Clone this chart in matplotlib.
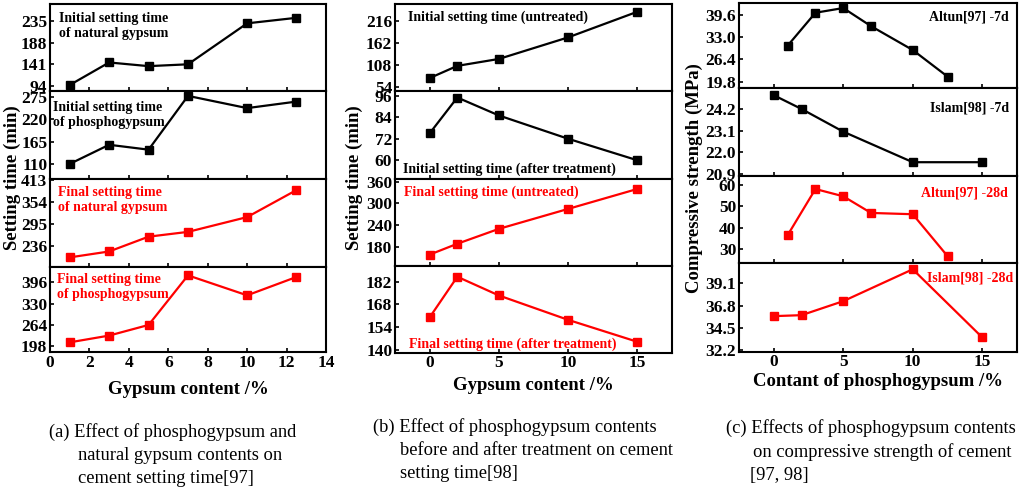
import matplotlib
matplotlib.use("Agg")
import matplotlib.pyplot as plt

# panel (a): setting time vs gypsum content [97]
x_a = [1, 3, 5, 7, 10, 12.5]
nat_init = [96, 145, 137, 141, 230, 242]
pg_init = [110, 157, 145, 277, 247, 263]
nat_final = [204, 220, 260, 273, 313, 386]
pg_final = [210, 231, 264, 418, 356, 413]

# panel (b): untreated / treated phosphogypsum [98]
x_b = [0, 2, 5, 10, 15]
untr_init = [75, 105, 122, 175, 238]
trt_init = [75, 95, 85, 72, 60]
untr_final = [159, 189, 230, 285, 340]
trt_final = [160, 185, 173.5, 158.5, 145]

# panel (c): compressive strength
x_altun = [1, 3, 5, 7, 10, 12.5]
altun_7d = [30.5, 40.3, 41.7, 36.3, 29.2, 21.3]
altun_28d = [36.5, 58.1, 54.7, 46.9, 46.3, 26.7]
x_islam = [0, 2, 5, 10, 15]
islam_7d = [24.9, 24.2, 23.05, 21.5, 21.5]
islam_28d = [35.7, 35.8, 37.25, 40.55, 33.5]

yticks_a = [[94, 141, 188, 235], [110, 165, 220, 275], [236, 295, 354, 413], [198, 264, 330, 396]]
ylims_a = [(83, 272), (73, 289), (178, 416), (180, 444)]
yticks_b = [[54, 108, 162, 216], [60, 72, 84, 96], [180, 240, 300, 360], [140, 154, 168, 182]]
ylims_b = [(44, 257), (49.4, 98.8), (128.5, 366.6), (138.3, 191.8)]
yticks_c = [["19.8", "26.4", "33.0", "39.6"], ["20.9", "22.0", "23.1", "24.2"],
            ["30", "40", "50", "60"], ["32.2", "34.5", "36.8", "39.1"]]
ylims_c = [(17.8, 43.2), (20.8, 25.25), (23.6, 64.2), (32.02, 41.23)]

plt.rcParams['font.family'] = ['Liberation Serif', 'DejaVu Serif']
plt.rcParams['font.weight'] = 'bold'

W, H = 1030, 488
fig = plt.figure(figsize=(W / 100, H / 100), dpi=100)


def stack(left, right, edges):
    axs = []
    for i in range(4):
        top, bot = edges[i], edges[i + 1]
        ax = fig.add_axes([left / W, 1 - bot / H, (right - left) / W, (bot - top) / H])
        axs.append(ax)
    return axs


def style(ax, yt, ylim, xt, xlim, bottom):
    for s in ax.spines.values():
        s.set_linewidth(1.5)
    ax.set_xlim(xlim)
    ax.set_ylim(ylim)
    ax.set_xticks(xt)
    vals = [float(v) for v in yt]
    ax.set_yticks(vals)
    ax.set_yticklabels([str(v) for v in yt])
    ax.tick_params(direction='in', length=3, width=1.2, labelsize=12.5, pad=2)
    if not bottom:
        ax.tick_params(labelbottom=False)
    for lab in ax.get_xticklabels() + ax.get_yticklabels():
        lab.set_fontweight('bold')


def line(ax, x, y, c):
    ax.plot(x, y, color=c, lw=1.6, marker='s', ms=5.5, mfc=c, mec=c)


def txt(x, y, s, c='black', ha='left', size=10):
    fig.text(x / W, 1 - y / H, s, color=c, ha=ha, va='center', fontsize=size,
             fontweight='bold', linespacing=1.15)


# (a)
axa = stack(50, 326, [4, 91, 179, 267, 352])
for i, (y, c) in enumerate([(nat_init, 'black'), (pg_init, 'black'),
                            (nat_final, 'red'), (pg_final, 'red')]):
    line(axa[i], x_a, y, c)
    style(axa[i], yticks_a[i], ylims_a[i], range(0, 15, 2), (0, 14), i == 3)

# (b)
axb = stack(395, 672, [4, 90.7, 179.3, 265.7, 352.7])
for i, (y, c) in enumerate([(untr_init, 'black'), (trt_init, 'black'),
                            (untr_final, 'red'), (trt_final, 'red')]):
    line(axb[i], x_b, y, c)
    style(axb[i], yticks_b[i], ylims_b[i], [0, 5, 10, 15], (-2.5, 17.5), i == 3)

# (c)
axc = stack(739, 1017, [3, 88.3, 176, 262.7, 351.7])
for i, (x, y, c) in enumerate([(x_altun, altun_7d, 'black'), (x_islam, islam_7d, 'black'),
                               (x_altun, altun_28d, 'red'), (x_islam, islam_28d, 'red')]):
    line(axc[i], x, y, c)
    style(axc[i], yticks_c[i], ylims_c[i], [0, 5, 10, 15], (-2.5, 17.5), i == 3)

# in-panel labels
txt(59, 26, "Initial setting time\nof natural gypsum")
txt(53, 115, "Initial setting time\nof phosphogypsum")
txt(58, 200, "Final setting time\nof natural gypsum", 'red')
txt(57, 287, "Final setting time\nof phosphogypsum", 'red')
txt(408, 17, "Initial setting time (untreated)")
txt(403, 169, "Initial setting time (after treatment)")
txt(404, 192, "Final setting time (untreated)", 'red')
txt(409, 344, "Final setting time (after treatment)", 'red')
txt(1009, 17, "Altun[97] -7d", ha='right')
txt(1009, 108, "Islam[98] -7d", ha='right')
txt(1008, 193, "Altun[97] -28d", 'red', ha='right')
txt(1013, 278, "Islam[98] -28d", 'red', ha='right')

# axis labels
for xc, yc, s in [(188, 390, "Gypsum content /%"), (533, 386, "Gypsum content /%"),
                  (878, 382, "Contant of phosphogypsum /%")]:
    fig.text(xc / W, 1 - yc / H, s, ha='center', va='center', fontsize=13.5, fontweight='bold')
for xc, yc, s in [(12, 178, "Setting time (min)"), (354, 178, "Setting time (min)"),
                  (694, 178, "Compressive strength (MPa)")]:
    fig.text(xc / W, 1 - yc / H, s, ha='center', va='center', rotation=90,
             fontsize=13.5, fontweight='bold')

# captions
caps = [
    (49, 437, "(a) Effect of phosphogypsum and"), (78, 460, "natural gypsum contents on"),
    (78, 483, "cement setting time[97]"),
    (373, 432, "(b) Effect of phosphogypsum contents"), (400, 455, "before and after treatment on cement"),
    (400, 478, "setting time[98]"),
    (726, 433, "(c) Effects of phosphogypsum contents"), (753, 457, "on compressive strength of cement"),
    (750, 480, "[97, 98]"),
]
for x, y, s in caps:
    fig.text(x / W, 1 - y / H, s, ha='left', va='baseline', fontsize=13.3, fontweight='normal')

fig.savefig("out.png", dpi=100)
